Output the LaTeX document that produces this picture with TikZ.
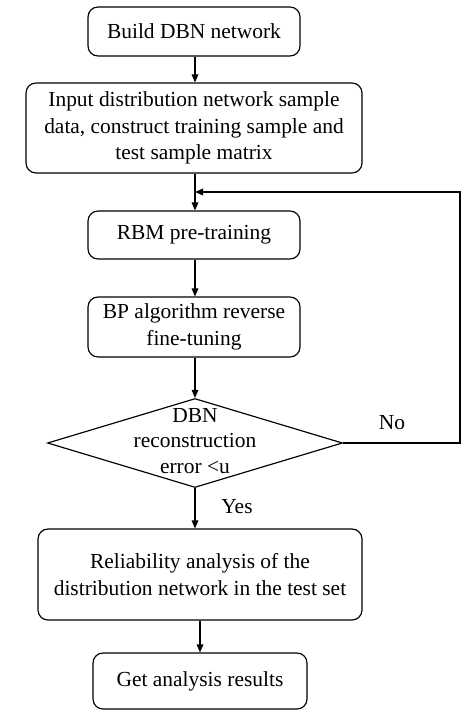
\documentclass[tikz,border=0pt]{standalone}
\usepackage{fontspec}
\setmainfont{Liberation Serif}
\usepackage{tikz}
\usetikzlibrary{shapes.geometric,arrows.meta,positioning,calc}

\begin{document}
\begin{tikzpicture}[
    font=\fontsize{18.3}{22.8}\selectfont,
    stepbox/.style={draw, line width=1pt, rounded corners=0.3cm, align=center, inner sep=0pt},
    flow/.style={line width=1pt, -{Triangle[length=2.4mm,width=2mm]}}
]
\useasboundingbox (0,0) rectangle (14.22,-21.63);

% Boxes top to bottom
\node[stepbox, minimum width=6.36cm, minimum height=1.47cm] (build) at (5.82,-0.945) {Build DBN network};
\node[stepbox, minimum width=10.08cm, minimum height=2.7cm] (input) at (5.82,-3.84) {
    Input distribution network sample\\
    data, construct training sample and\\
    test sample matrix
};
\node[stepbox, minimum width=6.36cm, minimum height=1.44cm] (rbm) at (5.82,-7.05) {RBM pre-training};
\node[stepbox, minimum width=6.36cm, minimum height=1.8cm] (bp) at (5.82,-9.81) {BP algorithm reverse\\fine-tuning};

% Decision
\node[draw, line width=1pt, diamond, inner sep=0pt, minimum width=8.85cm, minimum height=2.67cm] (check) at (5.85,-13.29) {};
\node[align=center, font=\fontsize{18.3}{21.6}\selectfont] (checktxt) at (5.85,-13.23) {DBN\\reconstruction\\error \textless u};

\node[stepbox, minimum width=9.72cm, minimum height=2.73cm] (reliab) at (6.0,-17.235) {
    Reliability analysis of the\\
    distribution network in the test set
};
\node[stepbox, minimum width=6.42cm, minimum height=1.68cm] (result) at (6.0,-20.43) {Get analysis results};

% Labels
\node (no) at (11.76,-12.69) {No};
\node (yes) at (7.11,-15.21) {Yes};

% Arrows
\coordinate (loop) at (5.85,-5.76);
\coordinate (far) at (13.8,-5.76);
\draw[flow] (build.south -| 5.85,0) -- (input.north -| 5.85,0);
\draw[line width=1pt] (input.south -| 5.85,0) -- (loop);
\draw[flow] (loop) -- (rbm.north -| 5.85,0);
\draw[flow] (rbm.south -| 5.85,0) -- (bp.north -| 5.85,0);
\draw[flow] (bp.south -| 5.85,0) -- (check.north);
\draw[flow] (check.south) -- (reliab.north -| 5.85,0);
\draw[flow] (reliab.south) -- (result.north);
\draw[flow] (check.east) -- (check.east -| far) -- (far) -- (loop);

\end{tikzpicture}
\end{document}
